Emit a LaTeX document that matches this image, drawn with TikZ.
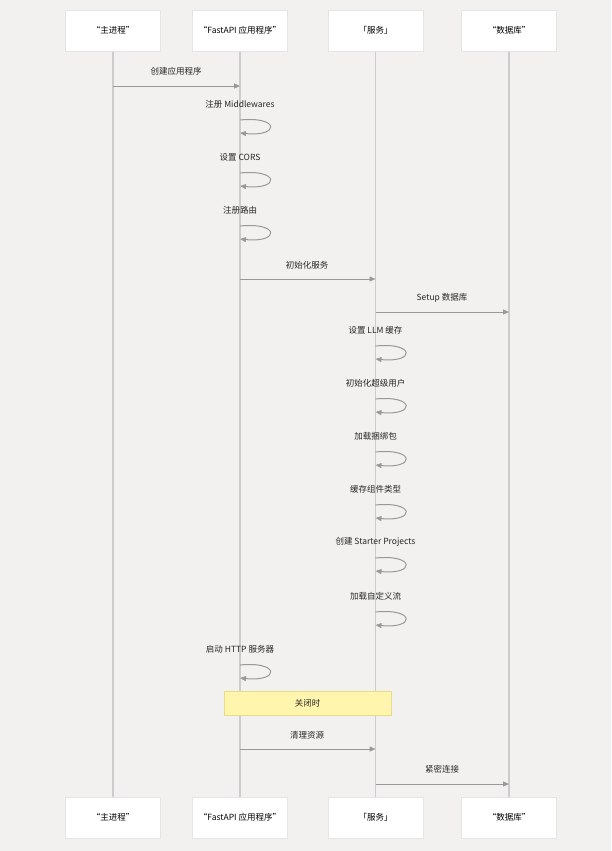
\documentclass[tikz,border=0pt]{standalone}
\usepackage{fontspec}
\setmainfont{Noto Sans CJK SC}
\usetikzlibrary{arrows.meta}
\definecolor{bg}{HTML}{F2F1F0}
\definecolor{life}{HTML}{CCCCCC}
\definecolor{msg}{HTML}{999999}
\definecolor{notef}{HTML}{FFF5AD}
\definecolor{noted}{HTML}{E8DC8A}
\tikzset{x=1pt,y=-1pt,
 actor/.style={draw=white!90!black,fill=white,minimum width=95pt,minimum height=41pt,font=\fontsize{8.5}{10}\selectfont,inner sep=0},
 lifeline/.style={draw=life,line width=1.4pt},
 msgline/.style={draw=msg,line width=1pt,-{Triangle[length=6pt,width=5pt]}},
 lbl/.style={font=\fontsize{8.5}{10}\selectfont,text=black!85},
}
\newcommand{\selfloop}[3]{% x, y top, label
 \node[lbl] at (#1,#2-16) {#3};
 \draw[msgline] (#1,#2) .. controls (#1+40,#2-4) and (#1+40,#2+17) .. (#1,#2+13);
}
\begin{document}
\begin{tikzpicture}
\fill[bg] (0,0) rectangle (611,851);
\useasboundingbox (0,0) rectangle (611,851);
\foreach \n/\x/\t in {a/113/“主进程”,b/240/“FastAPI 应用程序”,c/375.5/「服务」,d/509/“数据库”}{
 \draw[lifeline] (\x,51) -- (\x,797);
 \node[actor] (\n top) at (\x,30.5) {\t};
 \node[actor] (\n bot) at (\x,817.5) {\t};
}
\node[draw=noted,fill=notef,minimum width=167pt,minimum height=24pt,lbl] (note) at (307.5,703) {关闭时};
% messages
\node[lbl] (m1) at (176,71) {创建应用程序};
\draw[msgline] (113,86) -- (240,86);
\selfloop{240}{120}{注册 Middlewares}
\selfloop{240}{173}{设置 CORS}
\selfloop{240}{226}{注册路由}
\node[lbl] (m2) at (307,265) {初始化服务};
\draw[msgline] (240,279) -- (375.5,279);
\node[lbl] (m3) at (442,298) {Setup 数据库};
\draw[msgline] (375.5,312) -- (509,312);
\selfloop{375.5}{346}{设置 LLM 缓存}
\selfloop{375.5}{399}{初始化超级用户}
\selfloop{375.5}{452}{加载捆绑包}
\selfloop{375.5}{505}{缓存组件类型}
\selfloop{375.5}{558}{创建 Starter Projects}
\selfloop{375.5}{612}{加载自定义流}
\selfloop{240}{665}{启动 HTTP 服务器}
\node[lbl] (m4) at (307,735) {清理资源};
\draw[msgline] (240,749) -- (375.5,749);
\node[lbl] (m5) at (442,769) {紧密连接};
\draw[msgline] (375.5,784) -- (509,784);
\end{tikzpicture}
\end{document}
